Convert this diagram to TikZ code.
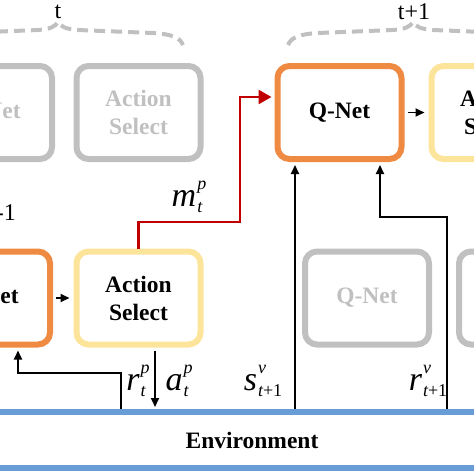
\documentclass[tikz,border=0pt]{standalone}
\usepackage{fontspec}
\setmainfont{Liberation Serif}
\newfontfamily\tnr{Liberation Serif}
\usetikzlibrary{arrows.meta}
\definecolor{boxgray}{RGB}{192,192,192}
\definecolor{boxorange}{RGB}{238,138,66}
\definecolor{boxyellow}{RGB}{253,228,155}
\definecolor{envblue}{RGB}{104,157,214}
\definecolor{darkred}{RGB}{192,0,0}
\newcommand{\boxfnt}{\tnr\fontsize{23.5}{28}\selectfont\bfseries}
\newcommand{\lblfnt}{\tnr\fontsize{34}{36}\selectfont\itshape}
\newcommand{\scfnt}{\tnr\fontsize{18}{18}\selectfont}
% letter with superscript and subscript
\newcommand{\supsub}[3]{{\lblfnt #1}\kern1pt\rlap{\raisebox{17pt}{\scfnt\itshape #2}}\raisebox{-6pt}{\scfnt #3}}
\tikzset{
  boxbase/.style={draw, line width=6pt, rounded corners=12pt, minimum width=124pt,
    minimum height=93pt, inner sep=0pt, align=center, font=\boxfnt},
  graybox/.style={boxbase, draw=boxgray, text=boxgray},
  orangebox/.style={boxbase, draw=boxorange},
  yellowbox/.style={boxbase, draw=boxyellow},
  blk/.style={draw=black, line width=1.8pt, -{Triangle[length=9pt,width=8pt]}},
  redarr/.style={draw=darkred, line width=2.6pt, -{Triangle[length=13pt,width=14pt]}},
  bracepath/.style={draw=boxgray, line width=4pt, dash pattern=on 11pt off 6pt},
  lbl/.style={inner sep=0pt},
  timelbl/.style={font=\tnr\fontsize{24}{26}\selectfont, inner sep=0pt},
  envline/.style={draw=envblue, line width=6pt}
}
\begin{document}
\begin{tikzpicture}[x=1pt, y=-1pt]
\useasboundingbox (0,0) rectangle (474,474);
\clip (0,0) rectangle (474,474);
% braces
\begin{scope}[shift={(58,0)}]
\draw[bracepath] (-125,45) .. controls (-122,37) and (-112,34) .. (-95,33) -- (-20,30)
  .. controls (-8,29) and (-3,27) .. (0,22) .. controls (3,27) and (8,29) .. (20,30)
  -- (95,33) .. controls (112,34) and (122,37) .. (125,45);
\end{scope}
\begin{scope}[shift={(413,0)}]
\draw[bracepath] (-125,45) .. controls (-122,37) and (-112,34) .. (-95,33) -- (-20,30)
  .. controls (-8,29) and (-3,27) .. (0,22) .. controls (3,27) and (8,29) .. (20,30)
  -- (95,33) .. controls (112,34) and (122,37) .. (125,45);
\end{scope}
\node[timelbl] (tl) at (58,12) {t};
\node[timelbl] (tr) at (414,12) {t+1};
\node[timelbl, anchor=east] (tb) at (16,213) {t-1};
% top row
\node[graybox] (QL) at (-10,112.5) {Q-Net};
\node[graybox] (AL) at (138.5,112.5) {Action\\Select};
\node[orangebox] (QR) at (339.5,112.5) {Q-Net};
\node[yellowbox] (AR) at (493.5,112.5) {Action\\Select};
% bottom row
\node[orangebox] (QBL) at (-12,298) {Q-Net};
\node[yellowbox] (ABL) at (138.5,298) {Action\\Select};
\node[graybox] (QBR) at (367,298) {Q-Net};
\node[graybox] (ABR) at (521,298) {Action\\Select};
% environment
\draw[envline] (0,412) -- (474,412);
\draw[envline] (0,467.5) -- (474,467.5);
\node[font=\boxfnt, inner sep=0pt] (env) at (252,440) {Environment};
% coordinates
\coordinate (r1) at (240,222);
\coordinate (r2) at (240,97);
\coordinate (sfoot) at (295,409);
\coordinate (rfoot) at (447,409);
\coordinate (rbend) at (447,217);
\coordinate (rtop) at (380,217);
\coordinate (afoot) at (155,407);
\coordinate (rpfoot) at (121,409);
\coordinate (rpb1) at (121,373);
\coordinate (rpb2) at (18,373);
% connectors
\draw[blk, shorten <=3pt, shorten >=4pt] (QR.east) -- (AR.west);
\draw[blk, shorten <=3pt, shorten >=4pt] (QBL.east) -- (ABL.west);
\draw[redarr, shorten >=3pt] (ABL.north) |- (r1) -- (r2) -- (r2 -| QR.west);
\draw[blk, shorten >=3pt] (sfoot) -- (sfoot |- QR.south);
\draw[blk, shorten >=3pt] (rfoot) -- (rbend) -- (rtop) -- (rtop |- QR.south);
\draw[blk, shorten <=3pt] (afoot |- ABL.south) -- (afoot);
\draw[blk, shorten >=3pt] (rpfoot) -- (rpb1) -- (rpb2) -- (rpb2 |- QBL.south);
% labels
\node[lbl] (mlbl) at (187,197) {\supsub{m}{p}{\itshape t}};
\node[lbl] (rplbl) at (136,381) {\supsub{r}{p}{\itshape t}};
\node[lbl] (aplbl) at (177,381) {\supsub{a}{p}{\itshape t}};
\node[lbl] (svlbl) at (263,381) {\supsub{s}{v}{\itshape t\upshape +1}};
\node[lbl] (rvlbl) at (428,381) {\supsub{r}{v}{\itshape t\upshape +1}};
\end{tikzpicture}
\end{document}
